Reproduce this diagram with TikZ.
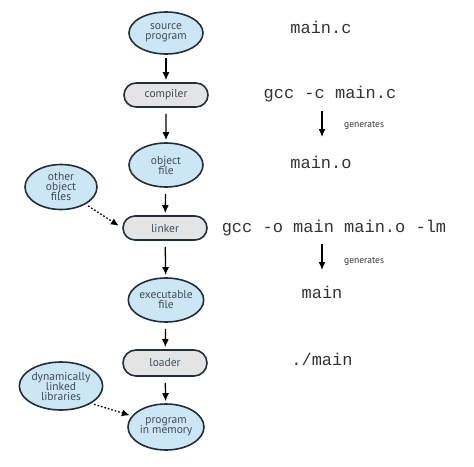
\documentclass[tikz,border=0pt]{standalone}
\usepackage{fontspec}
\newfontfamily\labelfont{PT Sans}
\newfontfamily\codefont{Liberation Mono}
\usetikzlibrary{shapes.geometric,shapes.misc,arrows.meta}
\definecolor{efill}{HTML}{CDE6F5}
\definecolor{edraw}{HTML}{222E38}
\definecolor{bfill}{HTML}{E4E4E4}
\definecolor{ltext}{HTML}{3E4C5A}
\definecolor{ctext}{HTML}{333333}
\tikzset{
  fileell/.style={ellipse, draw=edraw, fill=efill, line width=1.6pt, inner sep=0pt,
    minimum width=74pt, minimum height=44pt, align=center, text=ltext,
    font=\labelfont\fontsize{11.5}{12}\selectfont},
  toolbox/.style={rounded rectangle, draw=edraw, fill=bfill, line width=1.6pt, inner sep=0pt,
    minimum width=84pt, minimum height=24pt, text=ltext,
    font=\labelfont\fontsize{11.5}{12}\selectfont},
  codetext/.style={anchor=base, text=ctext, inner sep=0pt, font=\codefont\fontsize{17}{18}\selectfont},
  gentext/.style={anchor=west, text=ctext, inner sep=0pt, font=\labelfont\fontsize{9.5}{10}\selectfont},
  flow/.style={-{Latex[length=8pt,width=7pt]}, line width=1.3pt, black},
  dotflow/.style={-{Latex[length=8pt,width=7pt]}, line width=1.3pt, black, dash pattern=on 1.6pt off 2pt},
}
\begin{document}
\begin{tikzpicture}[x=1pt,y=-1pt]
\useasboundingbox (0,0) rectangle (474,466);
% left column
\node[fileell, minimum height=42pt] (src) at (166,33) {source\\[-2pt]program};
\node[toolbox] (comp) at (166,95) {compiler};
\node[fileell] (obj) at (166,165) {object\\[-2pt]file};
\node[toolbox] (link) at (165,228) {linker};
\node[fileell] (exe) at (166,300) {executable\\[-2pt]file};
\node[toolbox, minimum height=26pt] (load) at (165,363) {loader};
\node[fileell, minimum width=76pt, minimum height=46pt] (mem) at (166,427) {program\\[-2pt]in memory};
\node[fileell, minimum width=72pt, minimum height=45pt] (other) at (61,187) {other\\[-2pt]object\\[-2pt]files};
\node[fileell, minimum width=74pt, minimum height=48pt] (dyn) at (61,386) {dynamically\\[-2pt]linked\\[-2pt]libraries};
% flow arrows
\draw[flow, shorten <=3pt, shorten >=2pt] (src) -- (comp);
\draw[flow, shorten <=6pt, shorten >=2pt] (comp) -- (obj);
\draw[flow, shorten <=6pt, shorten >=2pt] (obj) -- (link);
\draw[flow, shorten <=6pt, shorten >=2pt] (link) -- (exe);
\draw[flow, shorten <=6pt, shorten >=2pt] (exe) -- (load);
\draw[flow, shorten <=6pt, shorten >=2pt] (load) -- (mem);
\draw[dotflow, shorten <=3pt, shorten >=4pt] (other.-35) -- (link.west);
\draw[dotflow, shorten <=3pt, shorten >=2pt] (dyn.-30) -- (mem.162);
% right column
\node[codetext] (t1) at (321,33) {main.c};
\node[codetext] (t2) at (330,98) {gcc -c main.c};
\node[codetext] (t3) at (321,168) {main.o};
\node[codetext] (t4) at (334,232) {gcc -o main main.o -lm};
\node[codetext] (t5) at (322,298) {main};
\node[codetext] (t6) at (322,365) {./main};
\coordinate (g1a) at (322,111);
\coordinate (g1b) at (322,137);
\coordinate (g2a) at (322,244);
\coordinate (g2b) at (322,270);
\draw[flow] (g1a) -- (g1b);
\draw[flow] (g2a) -- (g2b);
\node[gentext] (gen1) at (344,126) {generates};
\node[gentext] (gen2) at (344,262) {generates};
\end{tikzpicture}
\end{document}
